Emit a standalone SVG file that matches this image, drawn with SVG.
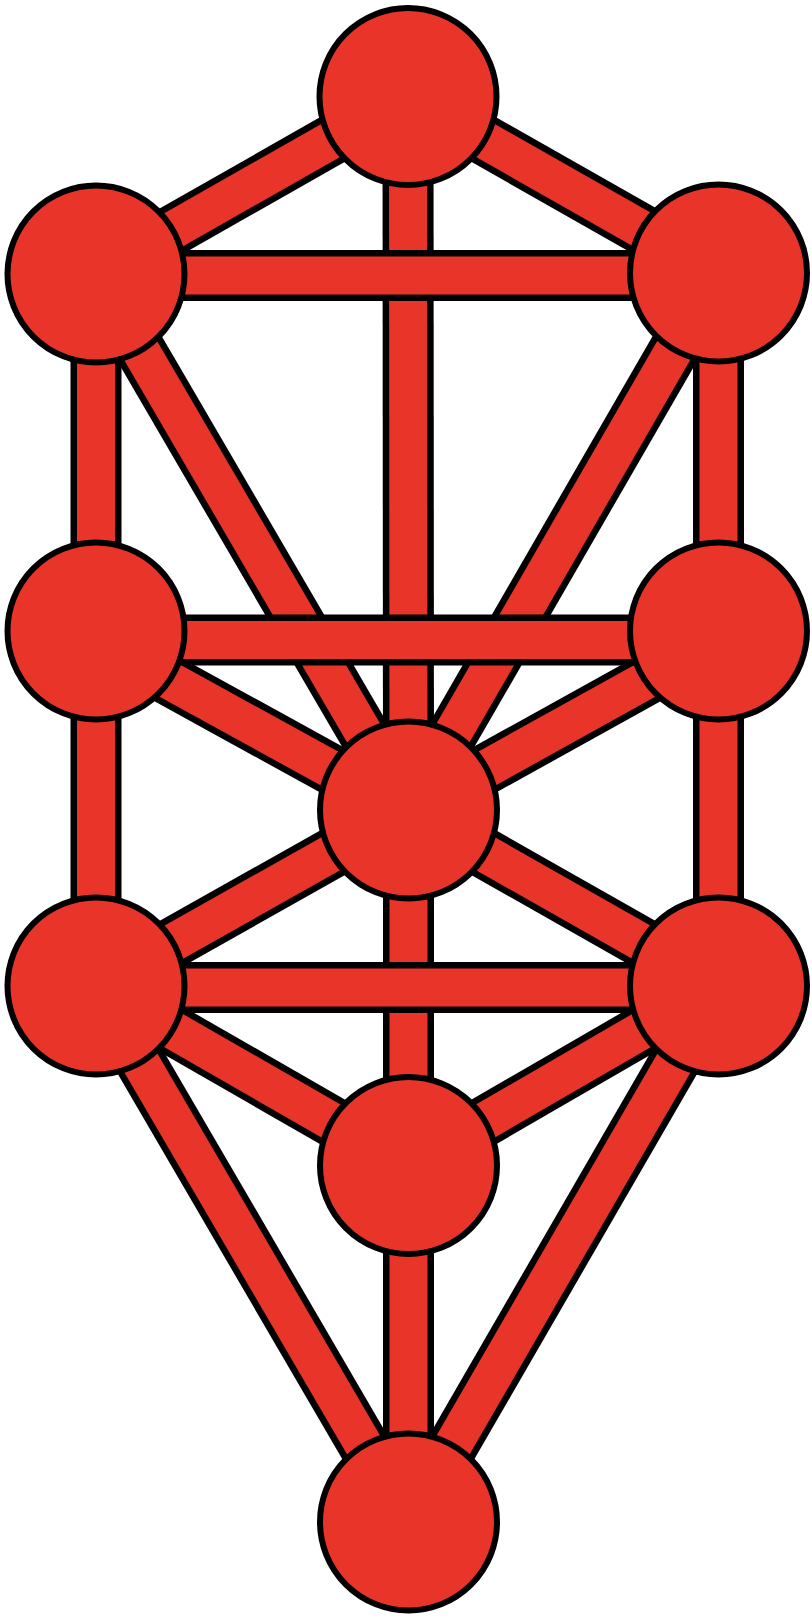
<svg xmlns="http://www.w3.org/2000/svg" width="812" height="1618" viewBox="0 0 812 1618">
<style>
.o{stroke:#000;stroke-width:51;fill:none}
.f{stroke:#E9342A;stroke-width:38;fill:none}
.n{fill:#E9342A;stroke:#000;stroke-width:6}
</style>
<rect width="812" height="1618" fill="#fff"/>
<g id="connectors">
<!-- diagonals -->
<line class="o" x1="408" y1="96.5" x2="718.5" y2="273"/><line class="f" x1="408" y1="96.5" x2="718.5" y2="273"/>
<line class="o" x1="408" y1="96.5" x2="96" y2="274"/><line class="f" x1="408" y1="96.5" x2="96" y2="274"/>
<line class="o" x1="96" y1="274" x2="408.5" y2="810"/><line class="f" x1="96" y1="274" x2="408.5" y2="810"/>
<line class="o" x1="718.5" y1="273" x2="408.5" y2="810"/><line class="f" x1="718.5" y1="273" x2="408.5" y2="810"/>
<line class="o" x1="96" y1="640" x2="408.5" y2="812"/><line class="f" x1="96" y1="640" x2="408.5" y2="812"/>
<line class="o" x1="718.5" y1="640" x2="408.5" y2="812"/><line class="f" x1="718.5" y1="640" x2="408.5" y2="812"/>
<line class="o" x1="96" y1="986" x2="408.5" y2="810"/><line class="f" x1="96" y1="986" x2="408.5" y2="810"/>
<line class="o" x1="718.5" y1="986" x2="408.5" y2="810"/><line class="f" x1="718.5" y1="986" x2="408.5" y2="810"/>
<line class="o" x1="96" y1="986" x2="408.5" y2="1165.5"/><line class="f" x1="96" y1="986" x2="408.5" y2="1165.5"/>
<line class="o" x1="718.5" y1="986" x2="408.5" y2="1165.5"/><line class="f" x1="718.5" y1="986" x2="408.5" y2="1165.5"/>
<line class="o" x1="96" y1="986" x2="408.5" y2="1522"/><line class="f" x1="96" y1="986" x2="408.5" y2="1522"/>
<line class="o" x1="718.5" y1="986" x2="408.5" y2="1522"/><line class="f" x1="718.5" y1="986" x2="408.5" y2="1522"/>
<!-- verticals -->
<line class="o" x1="408" y1="96.5" x2="408.5" y2="810"/><line class="f" x1="408" y1="96.5" x2="408.5" y2="810"/>
<line class="o" x1="408.5" y1="810" x2="408.5" y2="1165.5"/><line class="f" x1="408.5" y1="810" x2="408.5" y2="1165.5"/>
<line class="o" x1="408.5" y1="1165.5" x2="408.5" y2="1522"/><line class="f" x1="408.5" y1="1165.5" x2="408.5" y2="1522"/>
<line class="o" x1="96" y1="274" x2="96" y2="631"/><line class="f" x1="96" y1="274" x2="96" y2="631"/>
<line class="o" x1="96" y1="631" x2="96" y2="986"/><line class="f" x1="96" y1="631" x2="96" y2="986"/>
<line class="o" x1="718.5" y1="273" x2="718.5" y2="631"/><line class="f" x1="718.5" y1="273" x2="718.5" y2="631"/>
<line class="o" x1="718.5" y1="631" x2="718.5" y2="986"/><line class="f" x1="718.5" y1="631" x2="718.5" y2="986"/>
<!-- horizontals -->
<line class="o" x1="96" y1="275.5" x2="718.5" y2="275.5"/><line class="f" x1="96" y1="275.5" x2="718.5" y2="275.5"/>
<line class="o" x1="96" y1="640" x2="718.5" y2="640"/><line class="f" x1="96" y1="640" x2="718.5" y2="640"/>
<line class="o" x1="96" y1="987.5" x2="718.5" y2="987.5"/><line class="f" x1="96" y1="987.5" x2="718.5" y2="987.5"/>
</g>
<g id="keter"><circle class="n" cx="408" cy="96.5" r="88.5"/></g>
<g id="chokmah"><circle class="n" cx="718.5" cy="273" r="88.5"/></g>
<g id="binah"><circle class="n" cx="96" cy="274" r="88.5"/></g>
<g id="chesed"><circle class="n" cx="718.5" cy="631" r="88.5"/></g>
<g id="geburah"><circle class="n" cx="96" cy="631" r="88.5"/></g>
<g id="tiferet"><circle class="n" cx="408.5" cy="810" r="88.5"/></g>
<g id="netzach"><circle class="n" cx="718.5" cy="986" r="88.5"/></g>
<g id="hod"><circle class="n" cx="96" cy="986" r="88.5"/></g>
<g id="yesod"><circle class="n" cx="408.5" cy="1165.5" r="88.5"/></g>
<g id="malkuth"><circle class="n" cx="408.5" cy="1522" r="88.5"/></g>
</svg>
